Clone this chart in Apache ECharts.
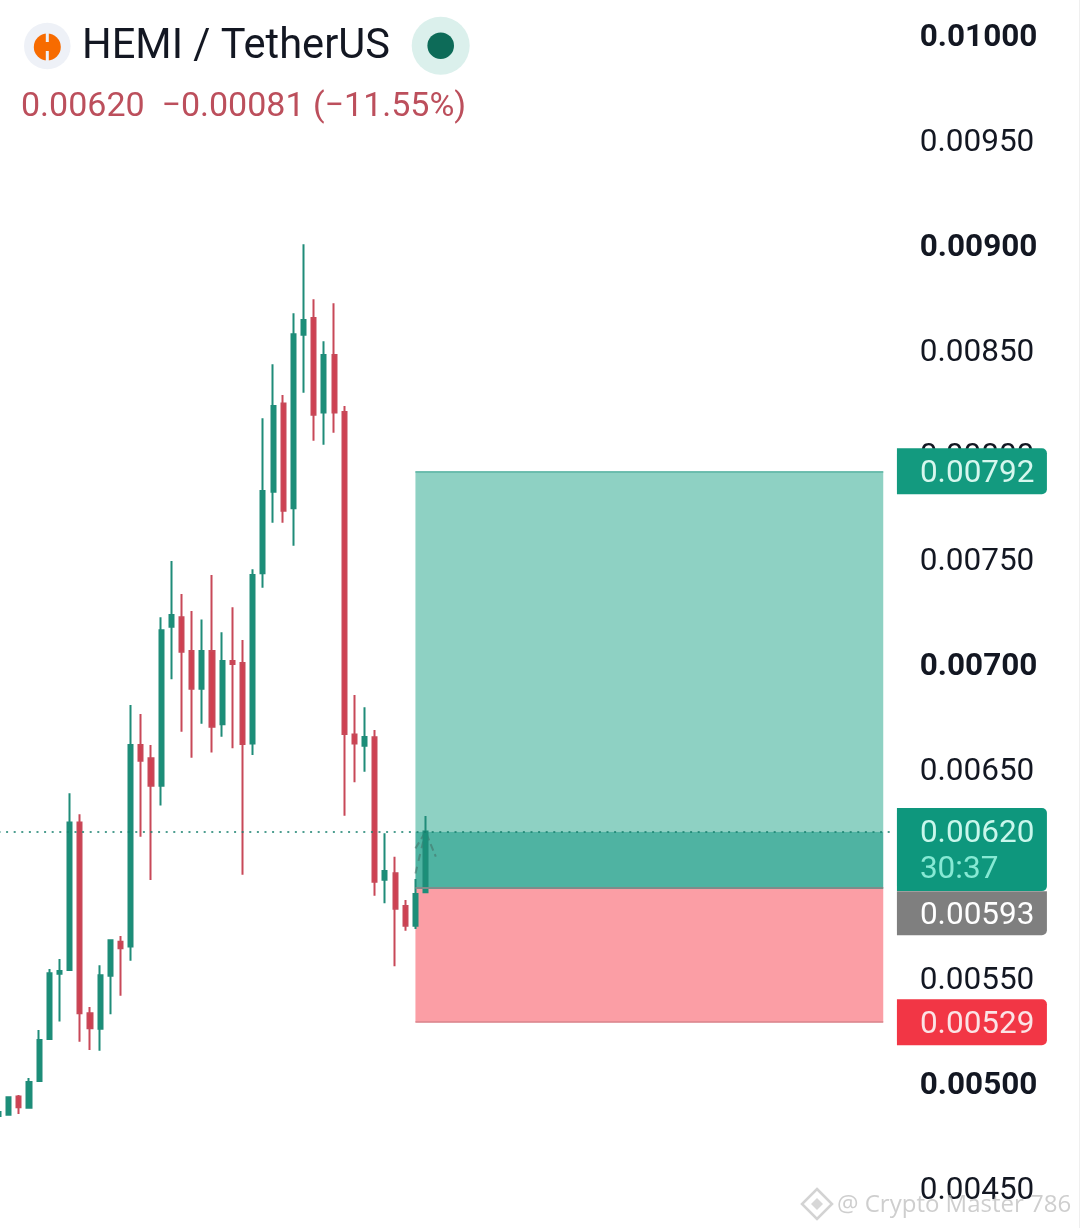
<!DOCTYPE html>
<html>
<head>
<meta charset="utf-8">
<script src="https://cdn.jsdelivr.net/npm/echarts@6/dist/echarts.min.js"></script>
<style>html,body{margin:0;padding:0;background:#fff}#c{width:1080px;height:1228px}</style>
</head>
<body>
<div id="c"></div>
<script>
const opens = [0.004842,0.004849,0.004935,0.004882,0.005010,0.005210,0.005522,0.005539,0.006244,0.005333,0.005259,0.005512,0.005674,0.005651,0.006613,0.006550,0.006419,0.007178,0.007223,0.007062,0.006882,0.007062,0.006712,0.007014,0.007005,0.006620,0.007433,0.007822,0.008244,0.007743,0.008572,0.008652,0.008200,0.008475,0.008203,0.006664,0.006610,0.006650,0.005970,0.006001,0.005845,0.005751,0.005910];
const closes = [0.004862,0.004932,0.004884,0.005005,0.005205,0.005524,0.005535,0.006244,0.005333,0.005261,0.005514,0.005681,0.005643,0.006613,0.006538,0.006419,0.007161,0.007234,0.007059,0.006882,0.007062,0.006701,0.007014,0.007000,0.006618,0.007425,0.007826,0.008231,0.007732,0.008574,0.008642,0.008190,0.008475,0.008200,0.006666,0.006620,0.006652,0.005961,0.006012,0.005832,0.005751,0.005902,0.006200];
const lows = [0.004842,0.004849,0.004852,0.004882,0.005006,0.005209,0.005293,0.005536,0.005197,0.005157,0.005154,0.005328,0.005417,0.005584,0.006176,0.005969,0.006324,0.006927,0.006677,0.006553,0.006715,0.006577,0.006653,0.006598,0.005994,0.006566,0.007364,0.007674,0.007674,0.007565,0.008295,0.008066,0.008047,0.008104,0.006276,0.006435,0.006486,0.005894,0.005858,0.005557,0.005727,0.005735,0.005910];
const highs = [0.004862,0.004932,0.004943,0.005024,0.005253,0.005544,0.005592,0.006383,0.006283,0.005363,0.005562,0.005681,0.005702,0.006804,0.006761,0.006613,0.007223,0.007492,0.007334,0.007253,0.007213,0.007425,0.007151,0.007271,0.007115,0.007452,0.008173,0.008431,0.008284,0.008674,0.009003,0.008741,0.008540,0.008722,0.008231,0.006852,0.006793,0.006685,0.006192,0.006080,0.005873,0.005974,0.006274];
const categories = Array.from({length: 89}, (_, i) => String(i));
const boldTicks = ['0.01000', '0.00900', '0.00700', '0.00500'];
const currentPrice = 0.0062, entryPrice = 0.00593, targetPrice = 0.00792, stopPrice = 0.00529;
const boxStart = '41', boxEnd = '87', firstCat = '0', lastCat = '88';
const arrowShaft = [['41', 0.00600], ['42', 0.00620]];
const arrowWings = [['41', 0.00612], ['42', 0.00620], ['43', 0.00608]];

const chart = echarts.init(document.getElementById('c'));
const FONT = 'Roboto';
const CLEAR = {color: 'rgba(0,0,0,0)', width: 0, type: 'solid'};
const tag = (value, text, bg, color, extra) => [
  {
    coord: [firstCat, value], symbol: 'none', lineStyle: CLEAR,
    label: Object.assign({
      show: true, position: 'end', distance: 3.5, formatter: '{a|' + text + '}', backgroundColor: bg,
      width: 127, align: 'left', padding: [10, 0, 4, 23], borderRadius: [0, 5, 5, 0],
      rich: {a: {fontFamily: FONT, fontSize: 31.5, lineHeight: 32, color}}
    }, extra || {})
  },
  {coord: [lastCat, value], symbol: 'none'}
];
const edge = (v, color, w) => [
  {coord: [boxStart, v], symbol: 'none', lineStyle: {color, width: w, type: 'solid', opacity: 1}},
  {coord: [boxEnd, v], symbol: 'none'}
];
chart.setOption({
  animation: false,
  backgroundColor: '#ffffff',
  grid: {left: -6.6, width: 905.1, top: 35.5, height: 1152.25, outerBoundsMode: 'none', containLabel: false},
  xAxis: {type: 'category', data: categories, show: false, boundaryGap: true},
  yAxis: {
    type: 'value', position: 'right', min: 0.0045, max: 0.01, interval: 0.0005, scale: true,
    axisLine: {show: false}, axisTick: {show: false}, splitLine: {show: false},
    axisLabel: {
      margin: 21.3, align: 'left', fontFamily: FONT, fontSize: 31.5, color: '#131722', padding: [6, 0, 0, 0],
      formatter: v => { const s = v.toFixed(5); return boldTicks.includes(s) ? '{b|' + s + '}' : s; },
      rich: {b: {fontFamily: FONT, fontSize: 31.5, fontWeight: 'bold', color: '#131722'}}
    }
  },
  series: [
    {
      type: 'line', z: 1, data: [], silent: true, symbol: 'none',
      markArea: {
        silent: true,
        data: [
          [{coord: [boxStart, targetPrice], itemStyle: {color: '#8ED1C3'}}, {coord: [boxEnd, currentPrice]}],
          [{coord: [boxStart, currentPrice], itemStyle: {color: '#4FB3A2'}}, {coord: [boxEnd, entryPrice]}],
          [{coord: [boxStart, entryPrice], itemStyle: {color: '#FB9EA5'}}, {coord: [boxEnd, stopPrice]}]
        ]
      },
      markLine: {
        silent: true, symbol: 'none', label: {show: false},
        data: [edge(targetPrice, '#5DB5A5', 1.5), edge(entryPrice, '#7F8C8A', 2), edge(stopPrice, '#D9848C', 1.5)]
      }
    },
    {
      type: 'line', z: 2, data: arrowShaft, symbol: 'none', silent: true,
      lineStyle: {color: 'rgba(70,110,100,0.55)', width: 2, type: [7, 6]}
    },
    {
      type: 'line', z: 2, data: arrowWings, symbol: 'none', silent: true,
      lineStyle: {color: 'rgba(70,110,100,0.55)', width: 2, type: [7, 4]}
    },
    {
      type: 'candlestick', z: 3, barWidth: 4.6,
      data: opens.map((o, i) => [o, closes[i], lows[i], highs[i]]),
      itemStyle: {color: '#1A9079', color0: '#D13F50', borderColor: '#1F8C79', borderColor0: '#C84858', borderWidth: 2}
    },
    {
      type: 'line', z: 5, data: [], silent: true, symbol: 'none',
      markLine: {
        silent: true, symbol: 'none', animation: false,
        data: [
          [
            {coord: [firstCat, currentPrice], symbol: 'none', lineStyle: {color: '#157F6C', width: 1.5, type: [2, 5.6]}, label: {show: false}},
            {coord: [lastCat, currentPrice], symbol: 'none'}
          ],
          tag(targetPrice, '0.00792', '#139A7F', '#D6F7EE'),
          tag(stopPrice, '0.00529', '#F23645', '#FBE3E5'),
          tag(entryPrice, '0.00593', '#7F7F7F', '#FFFFFF', {offset: [0, 25], padding: [9, 0, 3, 23], borderRadius: [0, 0, 5, 0]}),
          [
            {
              coord: [firstCat, currentPrice], symbol: 'none', lineStyle: CLEAR,
              label: {
                show: true, position: 'end', distance: 3.5, offset: [0, 18],
                formatter: '{a|0.00620}\n{t|30:37}', backgroundColor: '#0E977D',
                width: 127, align: 'left', padding: [8, 0, 3, 23], borderRadius: [0, 5, 5, 0],
                rich: {
                  a: {fontFamily: FONT, fontSize: 31.5, lineHeight: 36, color: '#C9F7EC'},
                  t: {fontFamily: FONT, fontSize: 31.5, lineHeight: 36, color: '#86E9D4'}
                }
              }
            },
            {coord: [lastCat, currentPrice], symbol: 'none'}
          ]
        ]
      }
    }
  ],
  graphic: [
    {type: 'circle', z: 100, shape: {cx: 47.3, cy: 46, r: 23.3}, style: {fill: '#EEF1F7'}},
    {type: 'circle', z: 101, shape: {cx: 47.3, cy: 47, r: 13.5}, style: {fill: '#F76B00'}},
    {type: 'rect', z: 102, shape: {x: 45.8, y: 33, width: 3, height: 9}, style: {fill: '#EEF1F7'}},
    {type: 'rect', z: 102, shape: {x: 45.8, y: 51, width: 3, height: 10}, style: {fill: '#EEF1F7'}},
    {type: 'text', z: 100, x: 82, y: 48, style: {text: 'HEMI / TetherUS', font: '41.6px Roboto', fill: '#131722', textVerticalAlign: 'middle'}},
    {type: 'circle', z: 100, shape: {cx: 440.7, cy: 45.7, r: 29}, style: {fill: '#DBF0EC'}},
    {type: 'circle', z: 101, shape: {cx: 440.7, cy: 45.7, r: 13.3}, style: {fill: '#0D6B58'}},
    {type: 'text', z: 100, x: 21, y: 107, style: {text: '0.00620  \u22120.00081 (\u221211.55%)', font: '34px Roboto', fill: '#BC4F5C', textVerticalAlign: 'middle'}},
    {type: 'text', z: 110, x: 837, y: 1205, style: {text: '@ Crypto Master 786', font: '24px "Open Sans"', fill: 'rgba(190,190,190,0.75)', textVerticalAlign: 'middle'}},
    {type: 'polygon', z: 110, shape: {points: [[817,1189],[832,1204],[817,1219],[802,1204]]}, style: {fill: 'none', stroke: 'rgba(200,200,200,0.8)', lineWidth: 2.5}},
    {type: 'polygon', z: 110, shape: {points: [[817,1198],[823,1204],[817,1210],[811,1204]]}, style: {fill: 'rgba(205,205,205,0.8)'}},
    {type: 'line', z: 90, shape: {x1: 1079.5, y1: 0, x2: 1079.5, y2: 1228}, style: {stroke: '#EFEFEF', lineWidth: 1}}
  ]
});
</script>
</body>
</html>
